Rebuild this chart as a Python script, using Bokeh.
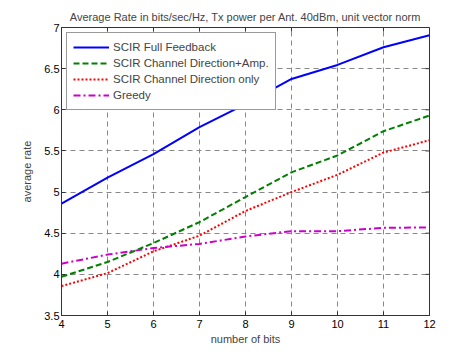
import math
from bokeh.plotting import figure
from bokeh.models import (Legend, LegendItem, FixedTicker, NumeralTickFormatter, Range1d)
from bokeh.embed import file_html
from bokeh.resources import INLINE

bits = [4, 5, 6, 7, 8, 9, 10, 11, 12]
full_feedback = [4.86, 5.175, 5.46, 5.79, 6.07, 6.375, 6.545, 6.76, 6.905]
dir_amp = [3.97, 4.15, 4.38, 4.635, 4.94, 5.24, 5.445, 5.74, 5.93]
dir_only = [3.857, 4.015, 4.28, 4.47, 4.77, 5.0, 5.21, 5.48, 5.63]
greedy = [4.13, 4.24, 4.32, 4.37, 4.46, 4.525, 4.525, 4.565, 4.57]

x_ticks = [4, 5, 6, 7, 8, 9, 10, 11, 12]
y_ticks = [3.5, 4, 4.5, 5, 5.5, 6, 6.5, 7]
x_lim = (4, 12)
y_lim = (3.5, 7)

FONT = "Liberation Sans"

p = figure(width=466, height=347, output_backend="svg", toolbar_location=None,
           x_range=Range1d(*x_lim), y_range=Range1d(*y_lim),
           title="Average Rate in bits/sec/Hz, Tx power per Ant. 40dBm, unit vector norm",
           min_border_left=61, min_border_right=37, min_border_top=27, min_border_bottom=32)

p.title.text_font = FONT
p.title.text_font_size = "11px"
p.title.text_font_style = "normal"
p.title.align = "center"
p.title.standoff = 10
p.title.offset = 0

p.outline_line_color = "#333333"
p.outline_line_width = 1
p.background_fill_color = "white"
p.border_fill_color = "white"

for ax in (p.xaxis[0], p.yaxis[0]):
    ax.major_tick_in = 4
    ax.major_tick_out = 0
    ax.minor_tick_in = 0
    ax.minor_tick_out = 0
    ax.axis_line_color = "#333333"
    ax.major_tick_line_color = "#333333"
    ax.major_label_text_font = FONT
    ax.major_label_text_font_size = "11px"
    ax.major_label_text_color = "black"
    ax.axis_label_text_font = FONT
    ax.axis_label_text_font_size = "11px"
    ax.axis_label_text_font_style = "normal"

p.xaxis.ticker = FixedTicker(ticks=x_ticks)
p.yaxis.ticker = FixedTicker(ticks=y_ticks)
p.yaxis.formatter = NumeralTickFormatter(format="0.[0]")
p.xaxis.axis_label = "number of bits"
p.yaxis.axis_label = "average rate"
p.xaxis.major_label_standoff = 4
p.yaxis.major_label_standoff = 2
p.xaxis.axis_label_standoff = 2
p.yaxis.axis_label_standoff = 8

p.xgrid.grid_line_color = "#888888"
p.ygrid.grid_line_color = "#888888"
p.xgrid.grid_line_dash = "5 4"
p.ygrid.grid_line_dash = "5 4"
p.xgrid.grid_line_width = 1
p.ygrid.grid_line_width = 1

# mirrored inward ticks on the top and right edges
p.ray(x=x_ticks, y=[y_lim[1]] * len(x_ticks), length=4, length_units="screen",
      angle=-math.pi / 2, line_color="#333333", line_width=1)
p.ray(x=[x_lim[1]] * len(y_ticks), y=y_ticks, length=4, length_units="screen",
      angle=math.pi, line_color="#333333", line_width=1)

r1 = p.line(bits, full_feedback, line_color="#0000ff", line_width=2)
r2 = p.line(bits, dir_amp, line_color="#008000", line_width=2, line_dash="6 3")
r3 = p.line(bits, dir_only, line_color="#ff0000", line_width=2, line_dash="2 2")
r4 = p.line(bits, greedy, line_color="#cc00cc", line_width=2, line_dash="7 3 2 3")

legend = Legend(items=[
    LegendItem(label="SCIR Full Feedback", renderers=[r1]),
    LegendItem(label="SCIR Channel Direction+Amp.", renderers=[r2]),
    LegendItem(label="SCIR Channel Direction only", renderers=[r3]),
    LegendItem(label="Greedy", renderers=[r4]),
], location="top_left")
legend.margin = 5
legend.padding = 6
legend.spacing = 0
legend.glyph_width = 36
legend.glyph_height = 16
legend.label_height = 16
legend.label_standoff = 4
legend.label_text_font = FONT
legend.label_text_font_size = "11.5px"
legend.border_line_color = "#333333"
legend.border_line_width = 1
legend.background_fill_alpha = 1
p.add_layout(legend)

open("out.html", "w").write(file_html(p, INLINE))
